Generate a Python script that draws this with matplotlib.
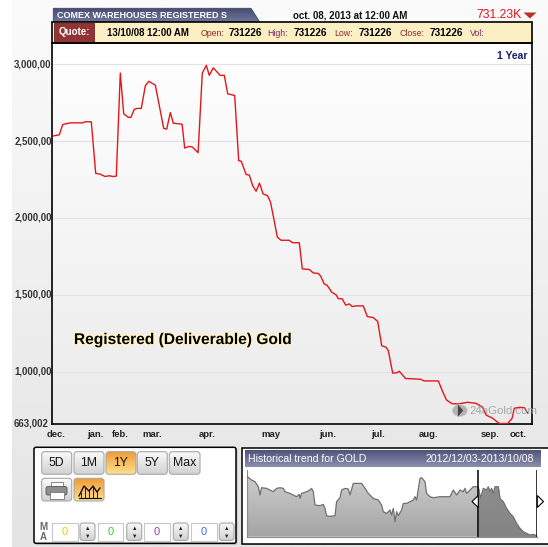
#  COMEX registered gold stocks, 1 year view (24hGold style widget)

import matplotlib.pyplot as plt
import matplotlib.colors as mcolors
import matplotlib.patheffects as pe
import numpy as np
from matplotlib.patches import Rectangle, FancyBboxPatch, Polygon, Circle
from matplotlib.transforms import Bbox, TransformedBbox

plt.rcParams['font.family'] = ['Liberation Sans', 'DejaVu Sans']

W, H = 548, 547

# main series: position along the chart (sample index) and registered gold (oz)
idx = [0.5, 3.5, 5.2, 8.9, 15.2, 16.4, 19.5, 21.7, 23.9, 26.4, 28.5, 30.2, 32.0,
       34.0, 35.7, 38.0, 39.3, 41.0, 42.3, 44.5, 46.5, 48.2, 51.5, 55.7, 57.2,
       59.0, 60.5, 64.9, 66.2, 68.2, 69.9, 72.9, 75.0, 77.0, 78.5, 80.5, 83.9,
       86.0, 87.7, 91.2, 93.2, 94.5, 96.9, 98.5, 100.2, 101.9, 103.6, 105.4,
       107.6, 109.1, 110.6, 112.5, 114.4, 118.4, 120.2, 123.5, 125.0, 128.5,
       130.5, 133.0, 134.2, 135.9, 137.5, 139.7, 141.9, 143.0, 144.9, 146.7,
       148.5, 149.9, 151.9, 155.5, 157.5, 160.5, 162.7, 164.7, 166.9, 168.0,
       170.2, 172.4, 173.5, 176.6, 184.1, 185.9, 193.0, 195.5, 197.1, 199.9,
       203.0, 207.7, 211.9, 215.2, 216.9, 220.2, 223.5, 227.7, 229.9, 231.0,
       233.5, 236.0, 237.7]
reg_gold = [2534000, 2541000, 2608000, 2619000, 2619000, 2626000, 2626000,
            2291000, 2285000, 2270000, 2275000, 2270000, 2272000, 2943000,
            2678000, 2655000, 2655000, 2707000, 2713000, 2713000, 2860000,
            2889000, 2865000, 2583000, 2578000, 2686000, 2617000, 2610000,
            2455000, 2465000, 2463000, 2425000, 2943000, 2993000, 2928000,
            2977000, 2928000, 2928000, 2808000, 2797000, 2373000, 2369000,
            2283000, 2279000, 2210000, 2174000, 2227000, 2156000, 2146000,
            2103000, 2006000, 1876000, 1855000, 1855000, 1839000, 1839000,
            1669000, 1665000, 1643000, 1639000, 1622000, 1572000, 1561000,
            1518000, 1500000, 1475000, 1475000, 1433000, 1441000, 1424000,
            1428000, 1428000, 1359000, 1352000, 1327000, 1169000, 1159000,
            1137000, 991000, 993000, 1003000, 956000, 951000, 940000, 940000,
            861000, 816000, 792000, 790000, 801000, 794000, 768000, 718000,
            697000, 663002, 663002, 697000, 762000, 768000, 766000, 731226]

month_labels = ['dec.', 'jan.', 'feb.', 'mar.', 'apr.', 'may', 'jun.', 'jul.',
                'aug.', 'sep.', 'oct.']
month_pos = [2.0, 21.7, 34.2, 50.0, 77.2, 109.2, 137.7, 163.0, 188.0, 218.8, 232.7]

ytick_vals = [663002, 1000000, 1500000, 2000000, 2500000, 3000000]
y_lo, y_hi = 663002, 3136600

title = 'COMEX WAREHOUSES REGISTERED STOCKS'
stamp = 'oct. 08, 2013 at 12:00 AM'
last_txt = '731.23K'
quote_date = '13/10/08 12:00 AM'
quote_names = ['Open:', 'High:', 'Low:', 'Close:', 'Vol:']
quote_vals = ['731226', '731226', '731226', '731226', '']

# historical trend (mini chart), relative height
hist_pos = [0, 4.3, 7.7, 11, 12.7, 14.3, 19.3, 22.7, 26, 29.3, 32.7, 36, 37.7,
            42.7, 46, 49.3, 52, 52.7, 54.3, 59.3, 62.7, 64.3, 66, 67.7, 72.7,
            76, 77.7, 79.3, 82.7, 87.7, 89.3, 92.7, 94.3, 97.7, 101, 102.7,
            106, 114.3, 117.7, 121, 126, 131, 134.3, 136, 139.3, 142.7, 144.3,
            146, 147.7, 149.3, 151, 154.3, 156, 159.3, 166, 167.7, 169.3, 172.7,
            174.3, 177.7, 179.3, 182.7, 186, 192.7, 202.7, 206, 209.3, 212.7,
            216, 217.7, 219.3, 222.7, 226, 231, 233.3, 236, 239.3, 241, 242.7,
            244.3, 246, 247.7, 251, 252.7, 256, 259.3, 262.7, 266, 269.3, 272.7,
            276, 279.3, 282.7, 286, 289.3]
hist_val = [60, 56.7, 55, 50, 41.7, 49, 48.3, 46.7, 45, 48.3, 49, 48.3, 45,
            43.3, 41.7, 40, 42.3, 38.3, 43.3, 45, 46.7, 48.3, 45, 31.7, 31,
            32.3, 28.3, 21, 20.3, 21, 35, 39, 46.7, 48.3, 47.7, 41.7,
            53.3, 53.3, 48.3, 43.3, 38.3, 36.7, 31.7, 25, 23.3, 26.7, 21.7,
            28.3, 15, 25, 21, 26.7, 33.3, 33.3, 36.7, 40, 36.7, 58.3,
            59, 55, 43.3, 40, 39, 40, 40, 46.7, 41.7, 46.7,
            45, 48.3, 43.3, 46.7, 50, 50, 38.3, 48.3, 46.7, 50, 45,
            48.3, 43.3, 50, 50, 38.3, 35, 28.3, 23.3, 20, 13.3, 8.3,
            5, 3.3, 1.7, 2.3, 1]
hist_range = '2012/12/03-2013/10/08'
hist_sel = 231


def box(x0, y0, x1, y1):
    return [x0 / W, 1 - y1 / H, (x1 - x0) / W, (y1 - y0) / H]


def grad(ax, x0, y0, x1, y1, top, bot, clip=None, z=1):
    c = np.linspace(0, 1, 64)[:, None, None]
    img = np.array(mcolors.to_rgb(top)) * (1 - c) + np.array(mcolors.to_rgb(bot)) * c
    im = ax.imshow(img, extent=(x0, x1, y1, y0), origin='upper', aspect='auto',
                   zorder=z, interpolation='bilinear')
    if clip is not None:
        im.set_clip_path(clip)
    return im


def button(ax, x0, y0, x1, y1, label=None, on=False):
    p = FancyBboxPatch((x0, y0), x1 - x0, y1 - y0, boxstyle='round,pad=0,rounding_size=3',
                       fc='none', ec='#a8a8a8', lw=0.8, zorder=4)
    ax.add_patch(p)
    if on:
        grad(ax, x0, y0, x1, y1, '#ef9a34', '#fde08e', clip=p, z=3)
    else:
        grad(ax, x0, y0, x1, y1, '#fbfbfb', '#d2d2d2', clip=p, z=3)
    if label:
        ax.text((x0 + x1) / 2, (y0 + y1) / 2 + 0.5, label, ha='center', va='center',
                fontsize=8.8, color='#111', zorder=5)


fig = plt.figure(figsize=(W / 100, H / 100), dpi=100)
bg = fig.add_axes([0, 0, 1, 1])
bg.set_autoscale_on(False)
bg.set_xlim(0, W)
bg.set_ylim(H, 0)
bg.axis('off')

# page and plot backgrounds
grad(bg, 12, 0, W, H, '#fbfbfb', '#e4e4e4', z=0)
grad(bg, 52.3, 43.3, 532.3, 423.5, '#ffffff', '#ebebeb', z=1)

# header tab
tab = Polygon([(53.3, 21.7), (53.3, 8.3), (251, 8.3), (259.5, 21.7)], closed=True,
              fc='none', ec='#3f4466', lw=0.6, zorder=3)
bg.add_patch(tab)
grad(bg, 53, 8, 260, 22, '#474c72', '#6e7399', clip=tab, z=2)
title_clip = TransformedBbox(Bbox([[53, 8], [226.5, 22]]), bg.transData)
t = bg.text(56.7, 15.3, title, color='white', fontsize=6.5, fontweight='bold',
            va='center', ha='left', zorder=4)
t.set_clip_box(title_clip)
t.set_clip_on(True)
bg.text(293.3, 15, stamp, fontsize=7, fontweight='bold', va='center', color='#111')
bg.text(476.7, 14.5, last_txt, fontsize=8.8, color='#e8141b', va='center')
bg.add_patch(Polygon([(523.5, 12.5), (536.5, 12.5), (530, 18.5)], fc='#b83228', ec='none'))

# quote bar
bg.add_patch(Rectangle((52.3, 21.7), 479.4, 21.6, fc='#fcefc4', ec='black', lw=1.2, zorder=3))
bg.add_patch(Rectangle((54, 23.4), 40, 18.2, fc='#933434', ec='#6e2020', lw=0.6, zorder=4))
bg.text(74, 32.3, 'Quote:', color='white', fontsize=7, fontweight='bold',
        ha='center', va='center', zorder=5)
bg.text(106.7, 33.5, quote_date, fontsize=6.9, fontweight='bold', va='center', zorder=5)
name_x = [201, 267.7, 334, 399, 470]
val_x = [229, 293.3, 358.3, 429.3, 490]
name_c = ['#8a2a2a', '#7c2560', '#8a2a2a', '#8a2a2a', '#7c2560']
for nx, vx, nm, vv, cc in zip(name_x, val_x, quote_names, quote_vals, name_c):
    bg.text(nx, 33.5, nm, fontsize=6.3, color=cc, va='center', zorder=5)
    bg.text(vx, 33.5, vv, fontsize=7.2, fontweight='bold', va='center', zorder=5)

# main chart
ax = fig.add_axes(box(52.3, 43.3, 532.3, 423.5))
ax.set_facecolor('none')
ax.plot(idx, reg_gold, color='#e3161d', lw=1.0, zorder=3)
ax.set_xlim(0, 240)
ax.set_ylim(y_lo, y_hi)
ax.set_xticks(month_pos[1:], minor=True)
ax.set_xticks(month_pos)
ax.set_xticklabels(month_labels, fontsize=6.8, fontweight='bold', color='#222')
ax.tick_params(axis='x', which='both', length=0, pad=4.5)
ax.grid(True, axis='x', which='minor', color='#e2e2e2', lw=0.8)
ax.set_yticks([])
for v in ytick_vals[1:]:
    ax.axhline(v, color='#e2e2e2', lw=0.8, zorder=1)
ycl = TransformedBbox(Bbox([[0, 0], [52.3 / W, 1]]), fig.transFigure)
for v in ytick_vals:
    lab = f'{v:,}'
    off = -0.007 if v == y_lo else 0.010
    yt = ax.text(off, v, lab, transform=ax.get_yaxis_transform(), ha='right',
                 va='center', fontsize=6.9, fontweight='bold', color='#333')
    yt.set_clip_box(ycl)
    yt.set_clip_on(True)
for s in ax.spines.values():
    s.set_color('black')
    s.set_linewidth(1.2)

ax.text(0.991, 0.967, '1 Year', transform=ax.transAxes, ha='right', va='center',
        fontsize=7.5, fontweight='bold', color='#1c1c6e')
ax.text(0.045, 0.209, 'Registered (Deliverable) Gold', transform=ax.transAxes,
        fontsize=11.2, fontweight='bold', color='black', va='baseline',
        path_effects=[pe.withStroke(linewidth=2, foreground='#fff2c4')])
# watermark
ax.add_patch(Circle((0.849, 0.034), 0.0156, transform=ax.transAxes, fc='#a9a9a9',
                    ec='#cfcfcf', lw=0.6, alpha=0.85, zorder=5))
ax.add_patch(Polygon([(0.845, 0.050), (0.845, 0.018), (0.856, 0.034)], closed=True,
                     transform=ax.transAxes, fc='#444', ec='none', zorder=6))
ax.text(0.868, 0.034, '24hGold.com', transform=ax.transAxes, fontsize=8.2,
        color='#9a9a9a', alpha=0.85, va='center', zorder=6)

# left control panel
bg.add_patch(FancyBboxPatch((35.5, 448.8), 202, 96, boxstyle='round,pad=0,rounding_size=2',
                            fc='#bdbdbd', ec='none', zorder=1))
bg.add_patch(FancyBboxPatch((34, 447.3), 202, 96, boxstyle='round,pad=0,rounding_size=2',
                            fc='white', ec='black', lw=1.1, zorder=2))
btn_labels = ['5D', '1M', '1Y', '5Y', 'Max']
btn_x = [(41.7, 71.7), (74, 104), (106, 136), (137.3, 167.3), (169.3, 200)]
for (x0, x1), lb in zip(btn_x, btn_labels):
    button(bg, x0, 451.7, x1, 474.3, lb, on=(lb == '1Y'))
button(bg, 41.7, 478.3, 71.7, 501)
button(bg, 74, 478.3, 104, 501, on=True)
# printer icon
bg.add_patch(Rectangle((50.5, 481.5), 12.5, 6, fc='white', ec='#777', lw=0.6, zorder=6))
bg.add_patch(FancyBboxPatch((46, 486.5), 21, 8.5, boxstyle='round,pad=0,rounding_size=2',
                            fc='#8e8e8e', ec='#555', lw=0.6, zorder=6))
bg.add_patch(Rectangle((49.5, 492), 14, 6.5, fc='white', ec='#777', lw=0.6, zorder=7))
# line chart icon
icon_x = [79, 84, 89, 93, 97, 100]
icon_y = [496, 486, 491, 486, 492, 488]
bg.plot([78.5, 100.5], [497.5, 497.5], color='black', lw=0.8, zorder=6)
bg.plot(icon_x, icon_y, color='black', lw=0.9, zorder=6)
for xx in [80.5, 84.5, 88.5, 92.5, 96.5]:
    bg.plot([xx, xx], [497.5, np.interp(xx, icon_x, icon_y)], color='black', lw=0.6, zorder=6)
# moving average inputs
bg.text(43, 527.5, 'M', fontsize=7, fontweight='bold', color='#6a6a6a', ha='center', va='center')
bg.text(43, 536.5, 'A', fontsize=7, fontweight='bold', color='#6a6a6a', ha='center', va='center')
ma_cols = ['#e6d000', '#2ecc40', '#a53aa5', '#3a6df0']
in_x = [(51.7, 78.3), (98.3, 123.3), (144, 170), (190.7, 216.7)]
sp_x = [(80, 95), (126.7, 141.7), (173.3, 188.3), (219.3, 234)]
for (a0, a1), (s0, s1), cc in zip(in_x, sp_x, ma_cols):
    bg.add_patch(Rectangle((a0, 523), a1 - a0, 17.5, fc='white', ec='#c8c8c8', lw=0.8, zorder=3))
    bg.text((a0 + a1) / 2, 532, '0', color=cc, fontsize=8, ha='center', va='center', zorder=4)
    button(bg, s0, 523, s1, 540.5)
    bg.text((s0 + s1) / 2, 528, '▲', fontsize=4, ha='center', va='center', color='#222', zorder=6)
    bg.text((s0 + s1) / 2, 536, '▼', fontsize=4, ha='center', va='center', color='#222', zorder=6)

# right panel: historical trend
bg.add_patch(Rectangle((243, 449), 310, 96, fc='#bdbdbd', ec='none', zorder=1))
bg.add_patch(Rectangle((241.7, 447.7), 310, 96, fc='white', ec='black', lw=1.1, zorder=2))
bar = Rectangle((244.5, 450.2), 296, 16.5, fc='none', ec='none')
bg.add_patch(bar)
grad(bg, 244.5, 450.2, 540.5, 466.7, '#4f547a', '#8a8fae', clip=bar, z=3)
bg.text(248, 458.5, 'Historical trend for GOLD', color='white', fontsize=7.6,
        va='center', zorder=4)
bg.text(533.5, 458.5, hist_range, color='white', fontsize=7.6, va='center',
        ha='right', zorder=4)

mini = fig.add_axes(box(247.3, 470, 537.3, 536.7))
mini.set_facecolor('none')
mini.set_xlim(0, 290)
mini.set_ylim(0, 66.7)
hp = np.array(hist_pos)
hv = np.array(hist_val)
fill = mini.fill_between(hp, hv, color='none')
path = fill.get_paths()[0]
c = np.linspace(0, 1, 64)[:, None, None]
img = np.array(mcolors.to_rgb('#cdcdcd')) * (1 - c) + np.array(mcolors.to_rgb('#a4a4a4')) * c
im = mini.imshow(img, extent=(0, 290, 0, 62), aspect='auto', zorder=1)
im.set_clip_path(path, mini.transData)
mini.fill_between(hp, hv, where=hp >= hist_sel - 0.5, color='#7a7a7a', alpha=0.75,
                  lw=0, zorder=2)
mini.plot(hp, hv, color='#707070', lw=0.9, zorder=3)
mini.axvline(hist_sel, color='black', lw=1.1, zorder=4)
mini.axvline(290, color='black', lw=1.1, zorder=4)
mini.set_xlim(0, 290)
mini.set_ylim(0, 66.7)
mini.set_xticks([])
mini.set_yticks([])
for k in ['top', 'right']:
    mini.spines[k].set_visible(False)
for k in ['left', 'bottom']:
    mini.spines[k].set_color('#8a8a8a')

bg.set_zorder(0)
ax.set_zorder(2)
mini.set_zorder(3)
# selection handles over the mini chart
top = fig.add_axes([0, 0, 1, 1])
top.set_xlim(0, W)
top.set_ylim(H, 0)
top.axis('off')
top.set_zorder(4)
top.add_patch(Polygon([(478.3, 495.5), (472, 501.5), (478.3, 507.5)], closed=True,
                      fc='white', ec='black', lw=0.8))
top.add_patch(Polygon([(537.3, 495.5), (543.5, 501.5), (537.3, 507.5)], closed=True,
                      fc='white', ec='black', lw=0.8))

fig.savefig('out.png', dpi=100)
